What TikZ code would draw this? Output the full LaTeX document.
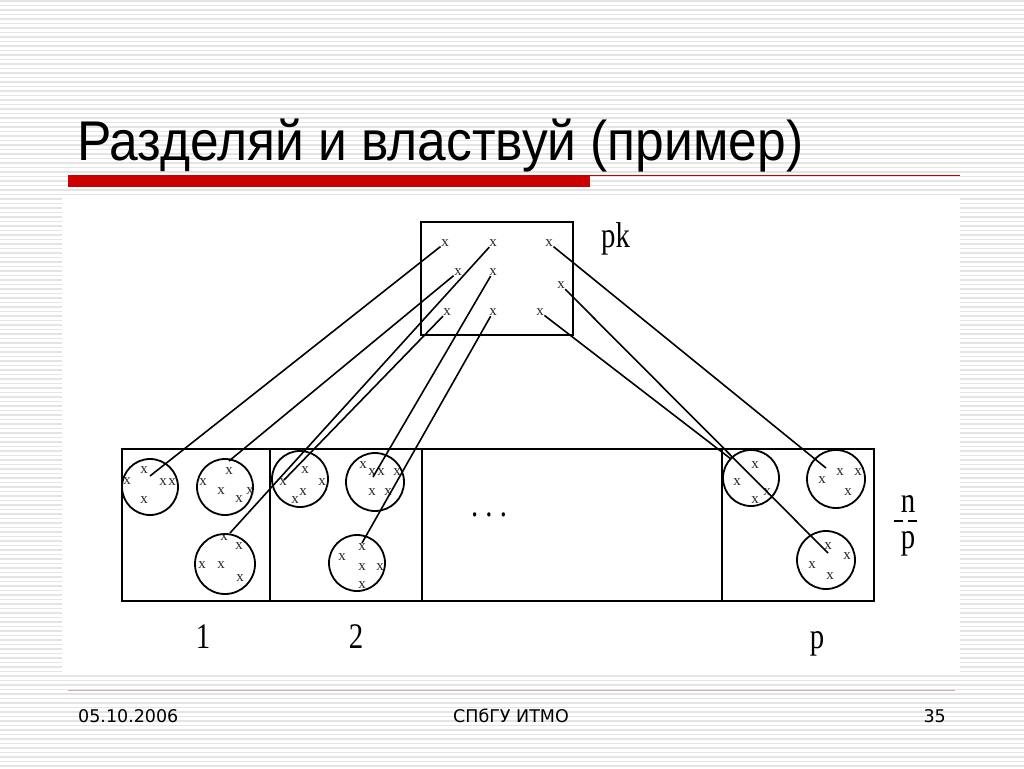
\documentclass[tikz,border=0pt]{standalone}
\usepackage{fontspec}
\setmainfont{Liberation Serif}
\newfontfamily\titlefont[FakeStretch=0.92]{Liberation Sans}
\newfontfamily\footfont{DejaVu Sans}
\newfontfamily\labelfont[FakeStretch=0.8]{Liberation Serif}
\definecolor{barred}{HTML}{CC0000}
\definecolor{footline}{HTML}{D0A8A8}
\definecolor{stripe}{HTML}{E4E4E4}
\tikzset{
	box/.style={draw, line width=2.6pt, inner sep=0pt},
	ring/.style={draw, circle, line width=1.8pt, inner sep=0pt},
	cross/.style={inner sep=0.5pt, text=black!85, font=\fontsize{15}{15}\selectfont},
	wire/.style={line width=1.6pt},
	lbl/.style={font=\labelfont\fontsize{36}{36}\selectfont, inner sep=0pt},
	foot/.style={font=\footfont\fontsize{17.5}{17.5}\selectfont, inner sep=0pt}
}
\begin{document}
\begin{tikzpicture}[x=1pt, y=-1pt]

		\useasboundingbox (0,0) rectangle (1024,768);
		\fill[white] (0,0) rectangle (1024,768);
		\foreach \y in {1,5.5,...,768}
		\draw[stripe, line width=1.8pt] (0,\y) -- (1024,\y);
		\fill[white] (62,195) rectangle (960,672);

		% title and footer
		\node[anchor=base west, inner sep=0pt] (title) at (77,160) {\titlefont\fontsize{56}{60}\selectfont Разделяй и властвуй (пример)};
		\fill[barred] (68,175) rectangle (590,187);
		\draw[barred, line width=0.8pt] (590,175.4) -- (960,175.4);
		\draw[footline, line width=0.8pt] (68,690) -- (955,690);
		\node[foot, anchor=base west] (date) at (78,722) {05.10.2006};
		\node[foot, anchor=base] (org) at (511,722) {СПбГУ ИТМО};
		\node[foot, anchor=base east] (page) at (946,722) {35};

		% boxes
		\node[box, minimum width=152pt, minimum height=113pt] (pkbox) at (497,278.5) {};
		\node[box, minimum width=148pt, minimum height=152pt] (sec1) at (196,525) {};
		\node[box, minimum width=152pt, minimum height=152pt] (sec2) at (346,525) {};
		\node[box, minimum width=300pt, minimum height=152pt] (mid) at (572,525) {};
		\node[box, minimum width=152pt, minimum height=152pt] (secp) at (798,525) {};

		% circles
		\foreach \name/\px/\py/\d in {A/150/487/56, B/225/487/56, C/225/564/60, D/300/479/56, E/375/482/58, F/357/563/56, G/751/478/56, H/836/479/58, I/826/560/58}
		\node[ring, minimum size=\d pt] (\name) at (\px,\py) {};

		% points
		\foreach \name/\px/\py in {t1/445/243, t2/493/243, t3/549/243, t4/458/272, t5/493/272, t6/561/285, t7/447/312, t8/493/312, t9/540/312,
			a1/127/481, a2/144/470, a3/163/482, a4/172/482, a5/144/500,
			b1/229/471, b2/203/482, b3/221/491, b4/250/491, b5/239/499,
			c1/224/537, c2/239/546, c3/202/565, c4/221/565, c5/240/578,
			d1/305/470, d2/283/482, d3/322/482, d4/303/492, d5/295/500,
			e1/363/465, e2/372/472, e3/381/472, e4/397/472, e5/372/492, e6/388/492,
			f1/362/547, f2/342/557, f3/362/567, f4/380/567, f5/362/585,
			g1/755/465, g2/737/482, g3/767/492, g4/755/500,
			h1/840/472, h2/858/472, h3/822/480, h4/848/492,
			i1/828/546, i2/847/556, i3/812/565, i4/830/576}
		\node[cross] (\name) at (\px,\py) {x};

		\coordinate (endA) at (150,476);
		\coordinate (endB) at (229,461);
		\coordinate (endD) at (284,480);
		\coordinate (endC) at (230,533);
		\coordinate (endE) at (373,477);
		\coordinate (endF) at (362,543);
		\coordinate (endH) at (826,468);
		\coordinate (endI) at (828,553);
		\coordinate (endG) at (731,459);

		\foreach \source/\dest in {t1/endA, t4/endB, t7/endD, t2/endC, t5/endE, t8/endF, t3/endH, t6/endI, t9/endG}
		\draw[wire] (\source) -- (\dest);

		% labels
		\node[lbl, anchor=base west] (pk) at (601,247) {pk};
		\node[lbl, anchor=base] (one) at (203,648) {1};
		\node[lbl, anchor=base] (two) at (356,648) {2};
		\node[lbl, anchor=base] (pl) at (817,648) {p};
		\node[lbl] (dots) at (489,515) {.\ .\ .};
		\node[lbl, anchor=base] (num) at (908,512) {n};
		\node[lbl, anchor=base] (den) at (908,548) {p};
		\draw[line width=1.4pt, dash pattern=on 9pt off 5pt] (894,521) -- (917,521);

	\end{tikzpicture}
\end{document}
